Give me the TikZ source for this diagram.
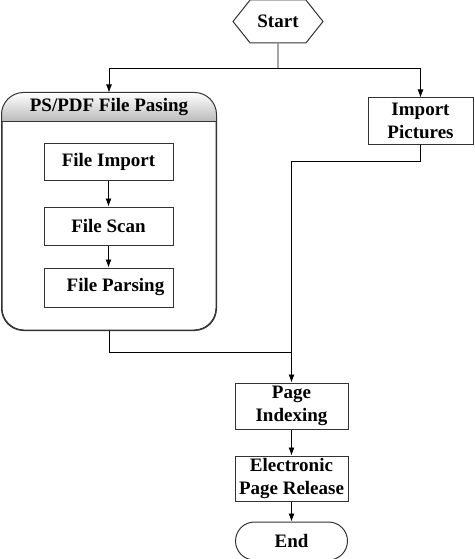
\documentclass[tikz,border=0pt]{standalone}
\usepackage{fontspec}
\setmainfont{Liberation Serif}
\usetikzlibrary{shapes.symbols,shapes.misc,arrows.meta}
\tikzset{
  box/.style={draw=black!80, line width=1pt, align=center, inner sep=0pt, font=\bfseries\fontsize{19}{23.5}\selectfont},
  link/.style={black, line width=0.9pt},
  tip/.style={-{Latex[length=8pt,width=6pt]}},
}
\begin{document}
\begin{tikzpicture}[x=1pt,y=-1pt]
	\useasboundingbox (0,0) rectangle (474,559);
	% group frame with shaded header
	\node [box, rounded corners=22pt, minimum width=214pt, minimum height=237pt] (grp) at (109,211.5) {};
	\begin{scope}
		\clip [rounded corners=22pt] (grp.north west) rectangle (grp.south east);
		\shade [top color=white, bottom color=gray!55] (grp.north west) rectangle (216,122);
	\end{scope}
	\draw [black!80, line width=1pt] (2,122) -- (216,122);
	\draw [black!80, line width=1pt, rounded corners=22pt] (grp.north west) rectangle (grp.south east);
	\node [font=\bfseries\fontsize{19}{23}\selectfont] (hdr) at (109,107.5) {PS/PDF File Pasing};
	% steps
	\node [box, signal, signal to=west and east, signal pointer angle=103, minimum width=90pt, minimum height=43pt] (start) at (278,21.5) {Start};
	\node [box, minimum width=129pt, minimum height=37pt] (fimp) at (108.5,161.5) {File Import};
	\node [box, minimum width=129pt, minimum height=38pt] (fscan) at (108.5,226) {File Scan};
	\node [box, minimum width=129pt, minimum height=39pt] (fpars) at (108.5,287.5) {\hspace{14pt}File Parsing};
	\node [box, minimum width=105pt, minimum height=46pt] (imp) at (420.5,121) {Import\\Pictures};
	\node [box, minimum width=113pt, minimum height=46pt] (pidx) at (291.5,406) {Page\\Indexing};
	\node [box, minimum width=113pt, minimum height=45pt] (epr) at (291.5,478.5) {Electronic\\Page Release};
	\node [box, rounded rectangle, minimum width=112pt, minimum height=38pt] (end) at (291.5,541) {End};
	% connectors
	\coordinate (split) at (278,68);
	\coordinate (bend) at (291.5,161);
	\coordinate (join) at (291.5,352);
	\draw [link] (start) -- (split);
	\draw [link,tip] (split) -| (grp.north);
	\draw [link,tip] (split) -| (imp.north);
	\draw [link,tip] (fimp) -- (fscan);
	\draw [link,tip] (fscan) -- (fpars);
	\draw [link] (imp) |- (bend);
	\draw [link] (grp) |- (join);
	\draw [link,tip] (bend) -- (pidx);
	\draw [link,tip] (pidx) -- (epr);
	\draw [link,tip] (epr) -- (end);
\end{tikzpicture}
\end{document}
